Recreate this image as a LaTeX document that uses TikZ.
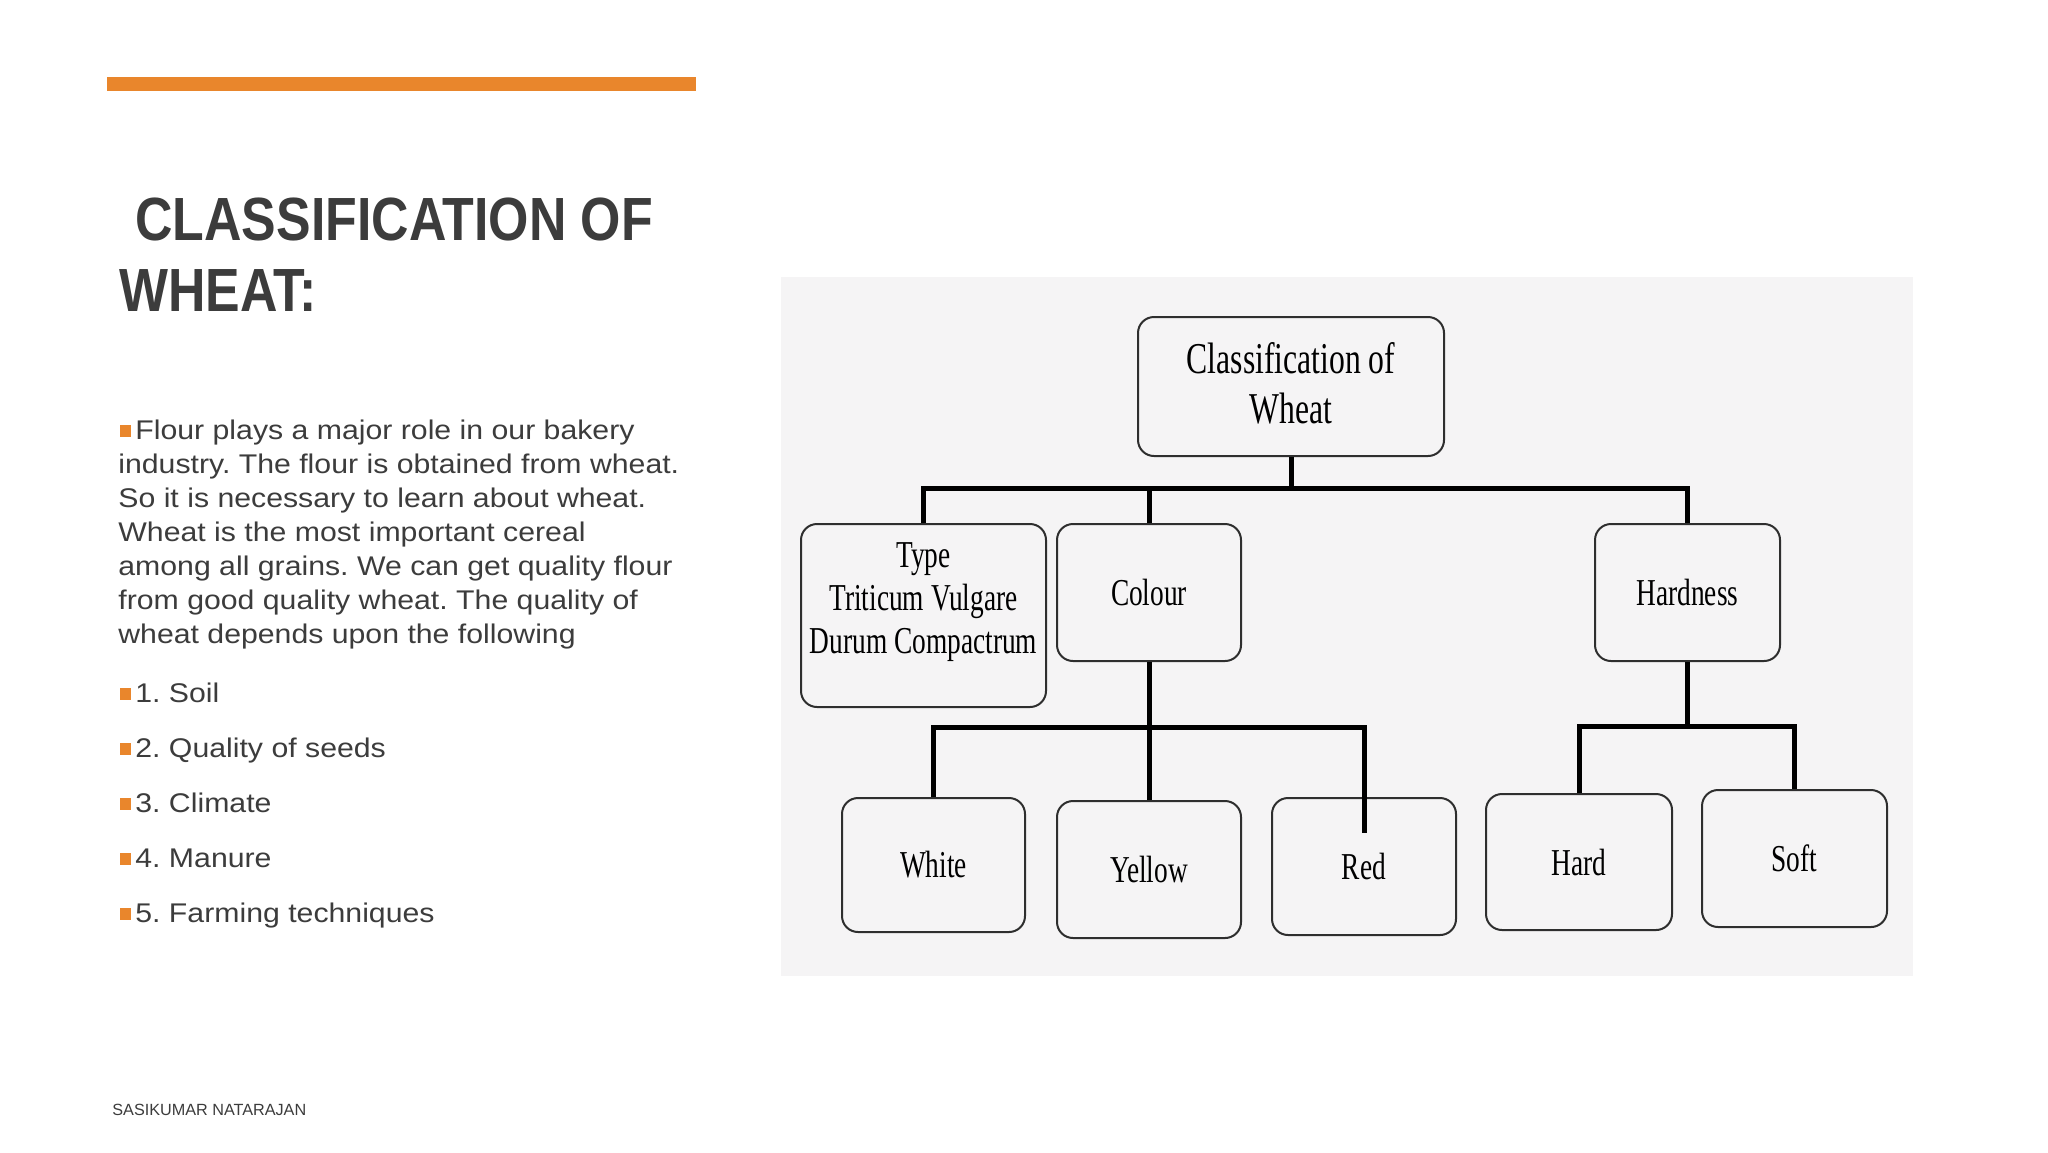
\documentclass[tikz,border=0pt]{standalone}
\usepackage{fontspec}
\setmainfont{Liberation Sans}
\newfontfamily\titlefont[FakeStretch=0.85]{Liberation Sans}
\newfontfamily\bodyfont[FakeStretch=1.12]{Liberation Sans}
\newfontfamily\diagfont[FakeStretch=0.72]{Liberation Serif}
\definecolor{barorange}{HTML}{E9862C}
\definecolor{textgray}{HTML}{3C3C3C}
\definecolor{panelgray}{HTML}{F5F4F5}
\definecolor{boxline}{HTML}{2E2E2E}
\frenchspacing
\tikzset{
  titletext/.style={anchor=base west, inner sep=0pt, text=textgray,
    font=\titlefont\bfseries\fontsize{30.5}{36}\selectfont},
  bodytext/.style={anchor=base west, inner sep=0pt, text=textgray,
    font=\bodyfont\fontsize{13.5}{17}\selectfont},
  bulletsq/.style={fill=barorange},
  wbox/.style={draw=boxline, line width=1pt, rounded corners=8pt, inner sep=0pt,
    text=black, font=\diagfont\fontsize{19}{21.5}\selectfont, align=center},
  conn/.style={draw=black, line width=2.5pt, line join=miter},
}
\begin{document}
\begin{tikzpicture}[x=0.5pt,y=-0.5pt]
\useasboundingbox (0,0) rectangle (2048,1152);
\fill[white] (0,0) rectangle (2048,1152);
% top bar
\fill[barorange] (107,77) rectangle (696,91);
% title
\node[titletext] (t1) at (135,240) {CLASSIFICATION OF};
\node[titletext] (t2) at (119,311) {WHEAT:};
% paragraph
\fill[bulletsq] (120,425) rectangle (131,437);
\node[bodytext] (p1) at (135,439) {Flour plays a major role in our bakery};
\node[bodytext] (p2) at (118,473) {industry. The flour is obtained from wheat.};
\node[bodytext] (p3) at (118,507) {So it is necessary to learn about wheat.};
\node[bodytext] (p4) at (118,541) {Wheat is the most important cereal};
\node[bodytext] (p5) at (118,575) {among all grains. We can get quality flour};
\node[bodytext] (p6) at (118,609) {from good quality wheat. The quality of};
\node[bodytext] (p7) at (118,643) {wheat depends upon the following};
% items
\foreach \y/\t/\n in {702/1. Soil/i1, 757/2. Quality of seeds/i2, 812/3. Climate/i3, 867/4. Manure/i4, 922/5. Farming techniques/i5}{
  \fill[bulletsq] (120,\y-14) rectangle (131,\y-2);
  \node[bodytext] (\n) at (135,\y) {\t};
}
% footer
\node[anchor=base west, inner sep=0pt, text=textgray, font=\fontsize{8.1}{9}\selectfont] (foot) at (112,1115) {SASIKUMAR NATARAJAN};
% diagram panel
\fill[panelgray] (781,277) rectangle (1913,976);
% boxes
\node[wbox, minimum width=153pt, minimum height=69.5pt] (root) at (1291,386.5) {};
\node[inner sep=0pt, align=center, font=\diagfont\fontsize{22}{25}\selectfont] (roottext) at (1291,383.5) {Classification of\\Wheat};
\node[wbox, minimum width=122.5pt, minimum height=91.5pt] (type) at (923.5,615.5) {};
\node[inner sep=0pt, align=center, font=\diagfont\fontsize{19}{21.5}\selectfont] (typetext) at (923.5,602) {Type\\Triticum Vulgare\\Durum Compactrum};
\node[wbox, minimum width=92pt, minimum height=68.5pt] (colour) at (1149,592.5) {Colour};
\node[wbox, minimum width=92.5pt, minimum height=68.5pt] (hardness) at (1687.5,592.5) {Hardness};
\node[wbox, minimum width=91.5pt, minimum height=67pt] (white) at (933.5,865) {White};
\node[wbox, minimum width=92pt, minimum height=68.5pt] (yellow) at (1149,869.5) {Yellow};
\node[wbox, minimum width=92pt, minimum height=68.5pt] (red) at (1364,866.5) {Red};
\node[wbox, minimum width=93pt, minimum height=68pt] (hard) at (1579,862) {Hard};
\node[wbox, minimum width=92.5pt, minimum height=68.5pt] (soft) at (1794.5,858.5) {Soft};
% bus levels
\coordinate (busA) at (0,488);
\coordinate (busB) at (0,727);
\coordinate (busC) at (0,726);
\coordinate (redend) at (1364,833);
% connectors
\draw[conn] (root.south) -- (root.south |- busA);
\draw[conn] (type.north) -- (type.north |- busA) -- (hardness.north |- busA) -- (hardness.north);
\draw[conn] (colour.north) -- (colour.north |- busA);
\draw[conn] (colour.south) -- (colour.south |- busB);
\draw[conn] (white.north) -- (white.north |- busB) -- (red.north |- busB) -- (redend);
\draw[conn] (yellow.north) -- (yellow.north |- busB);
\draw[conn] (hardness.south) -- (hardness.south |- busC);
\draw[conn] (hard.north) -- (hard.north |- busC) -- (soft.north |- busC) -- (soft.north);
\end{tikzpicture}
\end{document}
